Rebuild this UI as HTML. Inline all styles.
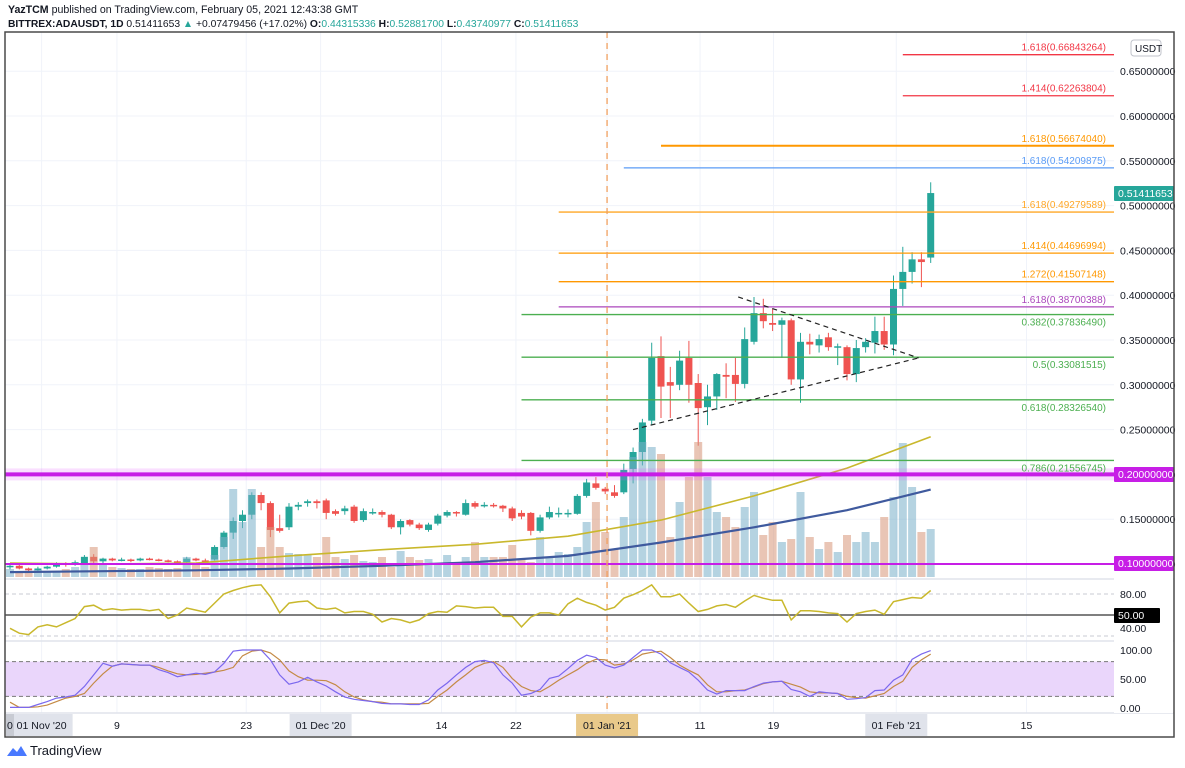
<!DOCTYPE html>
<html><head><meta charset="utf-8">
<style>
html,body{margin:0;padding:0;background:#fff;}
body{width:1185px;height:768px;overflow:hidden;font-family:"Liberation Sans",sans-serif;}
#hdr1{position:absolute;left:8px;top:4px;font-size:10.6px;color:#131722;}
#hdr2{position:absolute;left:8px;top:19px;font-size:10.3px;color:#131722;}
.t{color:#26a69a}
#logo{position:absolute;left:6px;top:743px;font-size:13px;color:#131722;display:flex;align-items:center;gap:2px;}
svg{position:absolute;left:0;top:0;}
</style></head><body>
<div id="hdr1"><b>YazTCM</b> published on TradingView.com, February 05, 2021 12:43:38 GMT</div>
<div id="hdr2"><b>BITTREX:ADAUSDT, 1D</b> 0.51411653 <span class="t">▲</span> +0.07479456 (+17.02%) <b>O:</b><span class="t">0.44315336</span> <b>H:</b><span class="t">0.52881700</span> <b>L:</b><span class="t">0.43740977</span> <b>C:</b><span class="t">0.51411653</span></div>
<svg id="chart" width="1185" height="768"></svg>
<div id="logo"><svg style="position:static" width="22" height="14" viewBox="0 0 22 14"><path d="M1 12 L7 4 L11 8 L15 2 L21 12 Z" fill="#2962ff" opacity="0.85"/></svg>TradingView</div>
<script>
const opens=[.097,.098,.095,.093,.095,.097,.101,.099,.100,.108,.103,.106,.104,.105,.104,.106,.105,.104,.103,.102,.106,.104,.105,.119,.135,.148,.155,.177,.168,.140,.141,.164,.168,.170,.171,.159,.159,.164,.149,.158,.158,.155,.141,.149,.144,.138,.145,.154,.158,.155,.168,.165,.166,.165,.162,.157,.157,.137,.152,.157,.156,.156,.176,.190,.184,.180,.180,.206,.225,.260,.332,.303,.300,.330,.302,.275,.287,.311,.311,.301,.348,.380,.369,.367,.372,.306,.348,.344,.353,.343,.342,.312,.342,.347,.360,.345,.407,.426,.440,.442];
const highs=[.099,.099,.096,.097,.098,.102,.102,.104,.110,.111,.107,.107,.107,.106,.107,.107,.106,.105,.104,.108,.107,.106,.121,.137,.152,.160,.180,.180,.170,.155,.168,.169,.172,.172,.173,.161,.165,.166,.162,.162,.160,.156,.150,.150,.146,.146,.156,.160,.159,.172,.170,.169,.168,.166,.164,.160,.158,.155,.164,.163,.161,.178,.195,.197,.186,.188,.212,.230,.262,.347,.354,.320,.338,.349,.312,.300,.313,.324,.330,.364,.398,.396,.385,.375,.374,.358,.357,.356,.358,.346,.344,.350,.352,.376,.376,.422,.454,.448,.448,.526];
const lows=[.094,.094,.092,.092,.094,.096,.097,.098,.099,.101,.101,.103,.103,.102,.103,.104,.103,.102,.101,.101,.103,.102,.104,.117,.128,.140,.150,.160,.130,.135,.138,.160,.164,.162,.150,.154,.155,.146,.147,.155,.152,.139,.133,.142,.138,.136,.143,.152,.153,.154,.162,.163,.163,.158,.148,.150,.132,.135,.150,.152,.152,.155,.174,.183,.178,.174,.178,.190,.210,.255,.263,.263,.294,.280,.232,.255,.272,.285,.281,.296,.345,.363,.360,.330,.300,.280,.334,.336,.338,.322,.305,.303,.336,.335,.339,.333,.388,.413,.409,.436];
const closes=[.098,.095,.093,.095,.097,.101,.099,.102,.108,.103,.106,.104,.105,.104,.106,.105,.104,.103,.102,.106,.104,.103,.119,.135,.148,.155,.177,.168,.138,.137,.164,.166,.170,.168,.157,.156,.162,.148,.159,.158,.155,.141,.148,.144,.140,.144,.154,.158,.157,.168,.164,.166,.165,.162,.151,.153,.137,.152,.158,.157,.157,.176,.191,.185,.181,.176,.205,.225,.258,.330,.298,.299,.327,.300,.274,.287,.312,.309,.301,.351,.380,.371,.367,.372,.306,.348,.345,.351,.342,.343,.312,.341,.348,.360,.345,.407,.426,.440,.437,.514];
const volumes=[8,6,5,7,6,5,8,10,12,30,14,10,9,8,8,10,9,8,9,20,12,10,22,40,88,55,88,30,50,30,24,23,22,20,40,20,18,22,16,15,20,10,26,20,17,18,12,22,15,20,35,20,20,20,32,18,15,40,20,25,23,30,55,75,45,28,60,120,135,130,123,40,75,100,135,100,65,60,50,70,85,42,55,35,38,85,40,28,35,25,42,35,45,35,60,80,134,90,45,48];
const rsiValues=[31,24,22,33,36,33,39,45,62,64,57,59,57,58,58,56,58,45,50,60,57,54,67,80,85,89,92,93,76,53,67,69,70,60,58,60,53,55,55,51,40,45,43,39,43,52,55,54,63,62,60,61,61,48,48,33,47,53,53,50,66,74,68,64,57,61,74,79,85,93,76,76,80,67,55,58,63,65,61,70,78,74,71,71,43,56,56,55,53,52,40,52,55,57,51,69,72,75,74,85];
const stochK=[1,1,1,6,11,17,19,22,37,57,77,72,76,75,74,74,66,61,54,57,60,58,62,77,98,100,100,100,83,57,41,45,53,45,38,28,19,15,13,11,8,7,7,6,6,14,31,43,57,70,80,82,78,57,43,22,25,32,51,55,68,82,91,87,74,69,74,87,100,100,93,78,70,62,48,31,24,30,30,30,37,43,45,46,32,28,20,28,26,25,15,16,18,30,31,48,57,84,93,99];
const stochD=[10,1,1,2,5,11,17,20,25,43,59,72,76,75,74,74,70,64,59,57,58,60,62,65,70,90,98,100,95,83,64,54,48,48,47,40,28,19,14,11,10,7,7,7,7,8,20,31,45,57,70,77,80,70,51,37,30,28,37,48,57,66,77,84,83,74,76,83,93,96,98,87,74,65,57,40,28,28,30,31,36,42,45,46,41,36,28,26,26,25,20,18,17,21,25,37,46,70,83,93];
const maFast=[.101,.100,.101,.109,.116,.122,.131,.149,.176,.207,.242];
const maSlow=[.091,.092,.093,.095,.098,.102,.109,.124,.141,.160,.183];
const maStep=[0,10,20,30,40,50,60,70,80,90,99];
const fibValues=[0.66843264,0.62263804,0.56674040,0.54209875,0.49279589,0.44696994,0.41507148,0.38700388,0.37836490,0.33081515,0.28326540,0.21556745];
const fibRatios=["1.618","1.414","1.618","1.618","1.618","1.414","1.272","1.618","0.382","0.5","0.618","0.786"];
const fibColors=["#f23645","#f23645","#ff9800","#5b9cf6","#ffa726","#ff9800","#ff9800","#ab47bc","#4caf50","#4caf50","#4caf50","#4caf50"];
const fibLabelBelow=[0,0,0,0,0,0,0,0,1,1,1,1];
const fibStartIdx=[96,96,70,66,59,59,59,59,55,55,55,55];
const priceTicks=[0.65,0.60,0.55,0.50,0.45,0.40,0.35,0.30,0.25,0.20,0.15,0.10];
const timeLabels=["01 Nov '20","9","23","01 Dec '20","14","22","01 Jan '21","11","19","01 Feb '21","15"];
const timeLabelIdx=[3.4,11.5,25.4,33.4,46.4,54.4,64.2,74.2,82.1,95.3,109.3];

const NS="http://www.w3.org/2000/svg";
const svg=document.getElementById('chart');
function el(tag,attrs,parent){const e=document.createElementNS(NS,tag);for(const k in attrs)e.setAttribute(k,attrs[k]);(parent||svg).appendChild(e);return e;}
const X=i=>10+i*9.3;
const Y=p=>564-(p-0.10)*896;
const RY=v=>615-(v-50)*0.7;
const SY=v=>708-v*0.58;
const VY=v=>577-v;
const R=1114;

priceTicks.forEach(p=>{const g=el('line',{x1:5,x2:R,y1:Y(p),y2:Y(p),stroke:'#f0f3fa','stroke-width':1});

});
timeLabelIdx.forEach(i=>{const g=el('line',{x1:X(i),x2:X(i),y1:32,y2:713,stroke:'#f0f3fa','stroke-width':1});

});

const gc=el('g',{});


closes.forEach((c,i)=>{const o=opens[i];const up=c>=o;const col=up?'#26a69a':'#ef5350';const x=X(i);
 const w=el('line',{x1:x,x2:x,y1:Y(highs[i]),y2:Y(lows[i]),stroke:col,'stroke-width':1},gc);
 
 
 const top=Y(Math.max(o,c)),bot=Y(Math.min(o,c));
 const b=el('rect',{x:x-3.5,y:top,width:7,height:Math.max(1.5,bot-top),fill:col},gc);
 
 
});
const gv=el('g',{});


volumes.forEach((v,i)=>{const up=closes[i]>=opens[i];
 const r=el('rect',{x:X(i)-4,y:VY(v),width:8,height:v,fill:up?'rgba(120,175,200,0.55)':'rgba(215,150,120,0.55)'},gv);
 
 
});
function maPath(arr){return arr.map((v,k)=>(k?'L':'M')+X(maStep[k]).toFixed(1)+' '+Y(v).toFixed(1)).join(' ');}
const m1=el('path',{d:maPath(maFast),fill:'none',stroke:'#c9b82c','stroke-width':1.6});


const m2=el('path',{d:maPath(maSlow),fill:'none',stroke:'#3f5a9e','stroke-width':2.2});



const band=el('rect',{x:5,y:Y(0.20)-6,width:R-5,height:12,fill:'rgba(230,80,255,0.18)'});


const l20=el('line',{x1:5,x2:R,y1:Y(0.20),y2:Y(0.20),stroke:'#c71ee6','stroke-width':4});


const l10=el('line',{x1:5,x2:R,y1:Y(0.10),y2:Y(0.10),stroke:'#c71ee6','stroke-width':2});



fibValues.forEach((v,k)=>{const y=Y(v);
 const ln=el('line',{x1:X(fibStartIdx[k]),x2:R,y1:y,y2:y,stroke:fibColors[k],'stroke-width':k==2?2:1.3});
 
 
 const t=el('text',{x:1106,y:fibLabelBelow[k]?y+11:y-4,'text-anchor':'end','font-size':10,fill:fibColors[k]});
 t.textContent=fibRatios[k]+'('+v.toFixed(8)+')';
 
 
});

const t1=el('line',{x1:X(78.3),y1:Y(0.398),x2:X(97.7),y2:Y(0.330),stroke:'#222','stroke-width':1.2,'stroke-dasharray':'5,4'});


const t2=el('line',{x1:X(67),y1:Y(0.250),x2:X(97.7),y2:Y(0.330),stroke:'#222','stroke-width':1.2,'stroke-dasharray':'5,4'});



const jl=el('line',{x1:X(64.2),x2:X(64.2),y1:32,y2:713,stroke:'#f0a060','stroke-width':1.3,'stroke-dasharray':'6,5'});



[579,641,713].forEach(y=>{const s=el('line',{x1:5,x2:1174,y1:y,y2:y,stroke:'#e0e3eb','stroke-width':1.5});

});

[80,20].forEach(v=>{const d=el('line',{x1:5,x2:R,y1:RY(v),y2:RY(v),stroke:'#c8cbd3','stroke-dasharray':'4,3'});

});
const r50=el('line',{x1:5,x2:R,y1:RY(50),y2:RY(50),stroke:'#555','stroke-width':1.5});


const rp=el('polyline',{points:rsiValues.map((v,i)=>X(i).toFixed(1)+','+RY(v).toFixed(1)).join(' '),fill:'none',stroke:'#c9b82c','stroke-width':1.5});



const sf=el('rect',{x:5,y:SY(80),width:R-5,height:SY(20)-SY(80),fill:'#ead6fb'});


[80,20].forEach(v=>{const d=el('line',{x1:5,x2:R,y1:SY(v),y2:SY(v),stroke:'#777','stroke-dasharray':'4,3'});

});
const sd=el('polyline',{points:stochD.map((v,i)=>X(i).toFixed(1)+','+SY(v).toFixed(1)).join(' '),fill:'none',stroke:'#c48a45','stroke-width':1.2});


const sk=el('polyline',{points:stochK.map((v,i)=>X(i).toFixed(1)+','+SY(v).toFixed(1)).join(' '),fill:'none',stroke:'#7b68ee','stroke-width':1.2});



const ax=el('rect',{x:R,y:33,width:59,height:680,fill:'#fff'});


priceTicks.forEach(p=>{const t=el('text',{x:1120,y:Y(p)+4,'font-size':10.5,fill:'#131722'});
t.textContent=p.toFixed(8);

});
function box(x,y,w,h,bg,txt,fg,name){const b=el('rect',{x:x,y:y,width:w,height:h,fill:bg,rx:1});


const t=el('text',{x:x+4,y:y+h-4,'font-size':10.5,fill:fg});t.textContent=txt;

}
const ub=el('rect',{x:1131,y:40,width:30,height:16,fill:'#fff',stroke:'#c0c3cb',rx:3});


const ut=el('text',{x:1135,y:52,'font-size':10,fill:'#131722'});ut.textContent='USDT';


box(1114,186,60,15,'#26a69a','0.51411653','#fff','last-price-label');
box(1114,467,60,15,'#c71ee6','0.20000000','#fff','level-0-20-axis-label');
box(1114,556,60,15,'#c71ee6','0.10000000','#fff','level-0-10-axis-label');
const rl=[["80.00",RY(80)],["40.00",RY(40)+6],["100.00",SY(100)],["50.00",SY(50)],["0.00",SY(0)]];
rl.forEach(a=>{const t=el('text',{x:1120,y:a[1]+4,'font-size':10.5,fill:'#131722'});t.textContent=a[0];

});
box(1114,608,46,15,'#000','50.00','#fff','rsi-50-label');

timeLabels.forEach((s,k)=>{const x=X(timeLabelIdx[k]);const big=s.length>3;
 if(big){const w=s.length*5.4+8;const bg=s.indexOf('Jan')>=0?'#e9c98a':'#e0e3eb';
  const b=el('rect',{x:x-w/2,y:714,width:w,height:22,fill:bg});
  
  }
 const t=el('text',{x:x,y:729,'font-size':10.5,fill:'#131722','text-anchor':'middle'});t.textContent=s;
 
 });
const zb=el('rect',{x:6,y:714,width:8,height:22,fill:'#c8cbd3'});


const zt=el('text',{x:7,y:729,'font-size':10.5,fill:'#131722'});zt.textContent='0';



const fr=el('rect',{x:5,y:32,width:1169,height:705,fill:'none',stroke:'#4a4a4a','stroke-width':1.5});


</script>
</body></html>
